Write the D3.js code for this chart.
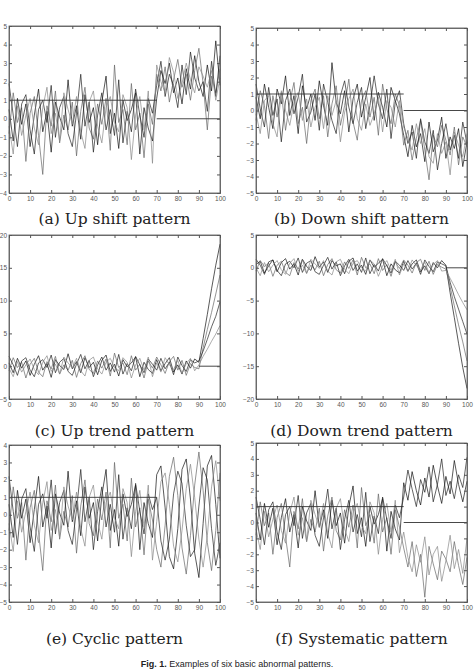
<!DOCTYPE html>
<html><head><meta charset="utf-8">
<script src="https://cdn.jsdelivr.net/npm/d3@7"></script>
<style>body{margin:0;background:#fff}svg{display:block}</style>
</head><body><svg id="c" width="474" height="671"></svg>
<script>
const xValues = d3.range(0, 101, 2);
const xTicks = d3.range(0, 101, 10);
const captions = ["(a) Up shift pattern","(b) Down shift pattern","(c) Up trend pattern","(d) Down trend pattern","(e) Cyclic pattern","(f) Systematic pattern"];
const figCaption = ["Fig. 1.", " Examples of six basic abnormal patterns."];

const upShift = [
[0.5,-1.2,1.1,-0.3,0.8,-1.5,0.2,1.6,-0.7,0.4,-1.8,0.9,0.1,-0.6,2.1,-0.4,0.7,-1.1,1.3,-0.2,0.6,-1.4,0.9,2.3,-0.8,0.3,-1.6,1.0,-0.1,0.5,1.4,-1.9,0.6,-0.5,-1.2,1.1,2.6,1.9,3.0,1.4,2.2,0.8,2.7,1.6,3.4,2.0,1.2,2.9,1.5,4.2,1.8],
[-0.8,1.4,-0.2,0.6,-2.3,0.3,1.2,-0.9,-3.0,0.7,-0.4,1.5,-1.3,0.2,-0.6,0.9,-2.0,0.4,1.7,-0.5,-1.1,0.8,-0.3,1.1,-1.7,2.9,-0.2,0.5,-1.4,1.9,-0.6,0.3,-2.1,0.8,-0.3,2.4,1.5,2.8,0.9,2.1,3.2,1.7,2.4,1.0,2.6,3.8,1.9,-0.6,2.3,1.4,2.7],
[1.9,0.2,-1.5,0.8,1.3,-0.6,-1.9,0.5,1.0,-0.2,1.8,-1.0,0.6,1.2,-0.8,-1.5,0.3,2.4,-0.4,0.9,-1.8,0.2,1.4,-0.6,0.5,-0.9,2.1,-1.3,0.4,-0.7,1.6,0.2,-1.0,1.1,0.3,1.8,3.1,1.2,2.4,1.8,0.6,2.9,1.3,3.6,2.2,1.5,2.0,0.4,3.1,1.2,3.4],
[-0.4,-1.9,0.7,-0.9,0.2,1.1,-0.5,-1.4,0.6,1.7,-0.8,0.3,-1.2,1.4,0.5,-0.3,1.2,-0.7,-1.6,0.9,1.5,-0.4,-1.3,0.6,1.2,-0.2,-0.7,1.3,0.6,-2.2,0.2,1.2,-0.6,1.5,-2.4,2.9,2.0,1.4,3.3,2.5,1.1,1.9,3.0,2.1,1.4,2.8,2.3,1.7,2.6,1.0,2.2]];

const downShift = [
[0.8,-0.5,1.6,0.2,-1.1,1.3,0.4,2.1,-0.3,0.9,-1.4,1.5,0.1,1.0,-0.6,1.8,0.3,-0.9,2.9,0.5,-0.2,1.2,-1.3,0.7,1.6,-0.4,0.8,2.0,-0.6,1.1,0.2,-1.0,1.4,0.6,-0.2,-1.5,-2.8,-0.9,-2.2,-1.4,-3.1,-0.7,-2.5,-1.8,-0.4,-2.9,-1.6,-2.3,-1.1,-3.4,-1.9],
[-0.6,1.2,0.3,-1.7,0.9,-0.4,1.1,-1.2,0.5,1.7,-0.8,0.2,-2.0,0.6,1.3,-0.5,0.9,-1.6,0.4,1.5,-0.9,0.3,1.9,-0.7,-1.8,0.6,1.2,-0.4,0.8,-1.5,1.6,0.1,-0.8,1.0,0.3,-2.1,-1.2,-3.0,-1.7,-0.6,-2.4,-4.2,-1.5,-2.2,-0.9,-1.8,-2.7,-1.0,-3.3,-1.6,-2.2],
[1.6,0.1,-1.0,1.4,-0.3,0.7,-1.9,0.6,1.3,-0.2,0.8,2.2,-0.7,-0.1,1.0,-1.2,1.6,0.5,-0.6,-1.4,0.9,1.8,0.2,-0.8,0.5,1.4,-1.1,0.3,2.1,0.4,-0.5,1.3,-1.7,0.5,1.2,-0.8,-2.0,-1.3,-2.9,-0.5,-1.9,-2.6,-1.2,-3.6,-2.0,-0.8,-2.4,-1.5,-2.9,-0.7,-2.0],
[-0.2,-1.4,0.6,0.9,-0.8,-1.6,1.2,0.0,-0.9,0.5,1.1,-0.6,0.7,-1.0,0.2,0.8,-1.1,0.9,-0.3,0.6,-1.9,-0.1,0.7,1.3,-0.5,-1.2,0.4,-0.9,-0.2,0.8,-1.3,0.6,0.2,-1.0,0.6,-1.0,-1.7,-2.4,-0.8,-2.0,-1.1,-2.8,-3.2,-1.4,-2.6,-1.9,-3.9,-1.3,-2.1,-2.8,-1.4]];

const upTrend = [
[0.5,-1.0,1.2,-0.3,0.8,-1.4,0.3,1.6,-0.6,0.4,-1.7,1.0,0.1,-0.5,1.9,-0.4,0.7,-1.0,1.3,-0.2,0.6,-1.3,0.9,1.7,-0.8,0.3,-1.5,1.0,-0.1,0.5,1.4,-1.6,0.6,-0.5,-1.1,1.0,-0.7,0.4,1.3,-0.9,0.2,-1.2,0.8,-0.3,1.1,0.6,4.2,7.9,11.8,15.4,18.6],
[-0.7,1.3,-0.2,0.6,-1.8,0.3,1.2,-0.9,-1.6,0.7,-0.4,1.5,-1.2,0.2,-0.6,0.9,-1.7,0.4,1.6,-0.5,-1.1,0.8,-0.3,1.1,-1.5,2.0,-0.2,0.5,-1.3,1.6,-0.6,0.3,-1.8,0.8,-0.3,1.4,0.2,-1.1,0.7,1.5,-0.6,0.9,-1.4,0.4,-0.2,-0.4,2.8,5.6,8.2,11.0,13.9],
[1.5,0.2,-1.4,0.8,1.3,-0.6,-1.6,0.5,1.0,-0.2,1.7,-1.0,0.6,1.2,-0.8,-1.4,0.3,1.8,-0.4,0.9,-1.6,0.2,1.4,-0.6,0.5,-0.9,1.8,-1.2,0.4,-0.7,1.5,0.2,-1.0,1.1,0.3,-0.6,1.2,-0.4,0.6,-1.3,1.4,0.1,-0.8,1.0,0.5,0.8,2.3,4.1,6.0,7.6,9.8],
[-0.3,-1.6,0.7,-0.9,0.2,1.1,-0.5,-1.3,0.6,1.6,-0.8,0.3,-1.2,1.4,0.5,-0.3,1.2,-0.7,-1.5,0.9,1.4,-0.4,-1.2,0.6,1.2,-0.2,-0.7,1.3,0.6,-1.8,0.2,1.2,-0.6,1.4,-1.6,0.5,-0.9,1.3,0.2,-0.5,0.9,-1.1,0.4,1.2,-0.7,0.2,1.5,2.6,3.8,4.9,6.2]];

const downTrend = [
[0.5,1.0,-0.8,0.3,1.2,-0.6,0.8,1.4,-0.2,0.6,-1.1,1.3,0.2,-0.4,1.7,0.1,0.9,-0.7,1.1,0.3,0.6,-0.9,1.0,1.5,-0.5,0.4,-1.0,1.2,0.1,0.7,1.3,-1.2,0.6,-0.3,-0.8,1.0,-0.5,0.6,1.2,-0.6,0.3,-0.9,0.8,0.0,1.1,0.4,-3.8,-7.6,-11.5,-15.2,-18.4],
[-0.5,1.1,0.2,0.7,-1.3,0.4,1.0,-0.7,-1.2,0.8,-0.2,1.3,-0.8,0.4,-0.3,1.0,-1.2,0.5,1.4,-0.3,-0.8,0.9,-0.1,1.2,-1.1,1.6,0.0,0.6,-0.9,1.4,-0.4,0.5,-1.3,0.9,-0.1,1.2,0.4,-0.8,0.8,1.3,-0.4,1.0,-1.0,0.5,0.1,-0.2,-2.9,-5.8,-8.7,-11.3,-14.2],
[1.3,0.4,-1.0,0.9,1.2,-0.4,-1.2,0.6,1.0,0.0,1.5,-0.7,0.7,1.1,-0.6,-1.0,0.4,1.6,-0.2,0.9,-1.2,0.3,1.3,-0.4,0.6,-0.7,1.5,-0.9,0.5,-0.5,1.4,0.3,-0.8,1.0,0.4,-0.4,1.1,-0.2,0.7,-1.0,1.2,0.2,-0.6,0.9,0.6,0.3,-2.2,-4.4,-6.3,-8.2,-10.1],
[0.0,-1.2,0.8,-0.6,0.4,1.1,-0.3,-1.0,0.7,1.4,-0.5,0.4,-0.9,1.3,0.6,-0.1,1.1,-0.5,-1.1,0.9,1.3,-0.2,-0.9,0.7,1.1,0.0,-0.5,1.2,0.6,-1.3,0.3,1.1,-0.4,1.3,-1.1,0.6,-0.6,1.2,0.3,-0.3,0.9,-0.8,0.5,1.1,-0.5,-0.4,-1.6,-2.8,-4.1,-5.3,-6.4]];

const cyclic = [
[0.6,-1.3,1.4,-0.2,0.9,-1.6,0.3,2.2,-0.7,0.5,-1.9,1.2,0.1,-0.6,2.5,-0.4,0.8,-1.2,1.6,-0.2,0.7,-1.5,1.1,2.6,-0.9,0.3,-1.8,1.2,-0.1,0.6,1.7,-2.0,0.7,-0.5,-1.3,2.3,2.8,0.4,-2.4,-3.1,-0.8,2.6,3.2,0.9,-2.2,-3.6,-0.5,2.8,3.4,0.6,-2.5],
[-0.9,1.6,-0.2,0.7,-2.6,0.4,1.4,-1.0,-3.2,0.8,-0.4,1.7,-1.4,0.2,-0.7,1.1,-2.2,0.5,2.0,-0.5,-1.2,0.9,-0.3,1.3,-1.9,3.0,-0.2,0.6,-1.5,2.1,-0.7,0.4,-2.3,0.9,-0.3,-2.0,-3.0,-0.6,2.2,3.3,1.1,-1.9,-3.4,-1.2,1.7,3.6,1.4,-1.6,-3.2,-0.9,2.4],
[2.2,0.2,-1.7,0.9,1.5,-0.7,-2.1,0.6,1.2,-0.2,2.0,-1.1,0.7,1.4,-0.9,-1.7,0.3,2.6,-0.4,1.0,-2.0,0.2,1.6,-0.7,0.6,-1.0,2.3,-1.4,0.4,-0.8,1.8,0.2,-1.1,1.2,0.3,1.0,-1.5,-2.6,-1.4,1.2,2.5,1.8,-0.6,-2.4,-2.0,0.5,2.7,2.0,-0.8,-2.9,-1.6],
[-0.5,-2.1,0.8,-1.0,0.2,1.3,-0.6,-1.6,0.7,1.9,-0.9,0.3,-1.3,1.6,0.5,-0.3,1.3,-0.8,-1.8,1.0,1.7,-0.4,-1.4,0.7,1.3,-0.2,-0.8,1.5,0.7,-2.4,0.2,1.4,-0.7,1.7,-2.6,-0.4,1.9,2.4,0.6,-1.8,-2.7,-0.9,1.5,2.9,1.0,-1.4,-3.0,-1.2,1.6,3.1,0.8]];

const systematic = [
[0.6,-1.1,1.2,-0.3,0.9,-1.4,0.3,1.5,-0.6,0.5,-1.6,1.0,0.1,-0.5,2.0,-0.3,0.8,-1.0,1.4,-0.2,0.6,-1.3,1.0,2.3,-0.7,0.3,-1.5,1.0,-0.1,0.5,1.5,-1.8,0.7,-0.4,-1.1,2.5,1.4,3.2,2.0,1.1,2.8,1.6,3.6,2.3,1.2,2.9,1.8,3.9,2.4,1.3,2.6],
[-0.8,1.3,-0.2,0.6,-2.0,0.3,1.2,-0.9,-2.8,0.7,-0.4,1.5,-1.2,0.2,-0.6,0.9,-1.8,0.4,1.6,-0.5,-1.1,0.8,-0.3,1.1,-1.6,2.2,-0.2,0.5,-1.3,1.8,-0.6,0.3,-2.0,0.8,-0.3,-1.6,-2.8,-1.2,-3.4,-2.0,-4.7,-1.5,-2.6,-3.6,-1.8,-2.3,-3.1,-1.2,-2.7,-3.9,-2.2],
[1.6,0.2,-1.4,0.8,1.3,-0.6,-1.7,0.5,1.0,-0.2,1.7,-1.0,0.6,1.2,-0.8,-1.5,0.3,2.1,-0.4,0.9,-1.7,0.2,1.4,-0.6,0.5,-0.9,1.9,-1.2,0.4,-0.7,1.6,0.2,-1.0,1.1,0.3,1.6,3.3,2.1,1.0,2.7,1.9,3.5,1.3,2.4,4.0,1.7,2.6,1.5,3.0,2.2,4.1],
[-0.4,-1.7,0.7,-0.9,0.2,1.1,-0.5,-1.3,0.6,1.6,-0.8,0.3,-1.2,1.4,0.5,-0.3,1.2,-0.7,-1.6,0.9,1.5,-0.4,-1.2,0.6,1.2,-0.2,-0.7,1.3,0.6,-2.0,0.2,1.2,-0.6,1.4,-1.9,-0.6,-2.2,-3.1,-1.4,-2.5,-0.9,-3.3,-2.0,-1.5,-3.7,-2.4,-0.8,-2.9,-1.7,-3.2,-1.0]];

const panels = [
 {data: upShift, dom:[-4,5], step:1, x0:9, y0:26, h:167, cap:224, refs:[[0,70,1],[70,100,0]]},
 {data: downShift, dom:[-5,5], step:1, x0:256, y0:28, h:165, cap:224, refs:[[0,70,1],[70,100,0]]},
 {data: upTrend, dom:[-5,20], step:5, x0:9, y0:235, h:164, cap:436, refs:[[90,100,0]]},
 {data: downTrend, dom:[-20,5], step:5, x0:256, y0:235, h:164, cap:436, refs:[[90,100,0]]},
 {data: cyclic, dom:[-5,4], step:1, x0:9, y0:445, h:157, cap:644, refs:[[0,70,1]]},
 {data: systematic, dom:[-5,5], step:1, x0:256, y0:443, h:159, cap:644, refs:[[0,70,1],[70,100,0]]}
];
const W = 211;
const colors = ["#111","#666","#222","#888"];
const svg = d3.select("#c");

panels.forEach((p, i) => {
  const g = svg.append("g").attr("transform", `translate(${p.x0},${p.y0})`);
  const x = d3.scaleLinear().domain([0,100]).range([0,W]);
  const y = d3.scaleLinear().domain(p.dom).range([p.h,0]);
  const line = d3.line().x((d,j)=>x(xValues[j])).y(d=>y(d));
  p.data.forEach((s,k)=>{
    g.append("path").attr("d", line(s)).attr("fill","none")
     .attr("stroke", colors[k]).attr("stroke-width",0.7);
  });
  p.refs.forEach(r=>{
    g.append("line").attr("x1",x(r[0])).attr("x2",x(r[1]))
     .attr("y1",y(r[2])).attr("y2",y(r[2])).attr("stroke","#333").attr("stroke-width",0.9);
  });
  const ya = d3.axisLeft(y).tickValues(d3.range(p.dom[0], p.dom[1]+0.01, p.step)).tickSize(-3).tickPadding(2);
  const xa = d3.axisBottom(x).tickValues(xTicks).tickSize(-3).tickPadding(3);
  const gy = g.append("g").call(ya);
  const gx = g.append("g").attr("transform",`translate(0,${p.h})`).call(xa);
  const gt = g.append("g").attr("transform",`translate(${W},0)`).call(d3.axisLeft(y).tickValues(ya.tickValues()).tickSize(3).tickFormat(""));
  const gtop = g.append("g").call(d3.axisBottom(x).tickValues(xTicks).tickSize(3).tickFormat(""));
  [gy,gx,gt,gtop].forEach(a=>{
    a.selectAll("path").attr("stroke","#555").attr("stroke-width",0.8);
    a.selectAll("line").attr("stroke","#555");
    a.selectAll("text").attr("font-family","Liberation Sans, sans-serif").attr("font-size",6.5).attr("fill","#555");
  });
  g.append("rect").attr("width",W).attr("height",p.h).attr("fill","none").attr("stroke","#555").attr("stroke-width",0.8);
  svg.append("text").attr("x", p.x0 + W/2).attr("y", p.cap)
    .attr("text-anchor","middle").attr("font-family","DejaVu Serif, serif").attr("font-size",15.5)
    .attr("fill","#222").text(captions[i]);
});

const fc = svg.append("text").attr("x",237).attr("y",667).attr("text-anchor","middle")
  .attr("font-family","Liberation Sans, sans-serif").attr("font-size",9).attr("fill","#222");
fc.append("tspan").attr("font-weight","bold").text(figCaption[0]);
fc.append("tspan").text(figCaption[1]);
</script></body></html>
